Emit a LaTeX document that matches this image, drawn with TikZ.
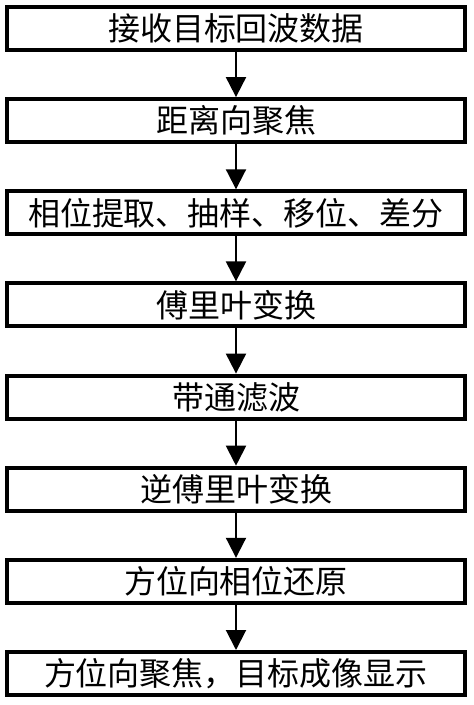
\documentclass[tikz,border=0pt]{standalone}
\usepackage{fontspec}
\newfontfamily\cjk{Noto Sans CJK SC}
\usetikzlibrary{arrows.meta}
\begin{document}
\begin{tikzpicture}[x=1pt,y=1pt,
  stepbox/.style={draw=black,line width=4pt,minimum width=458pt,minimum height=43pt,inner sep=0pt,font=\cjk\fontsize{32pt}{34pt}\selectfont,text=black,fill=white},
  flow/.style={line width=2pt,-{Triangle[width=20pt,length=20pt]}}]
\useasboundingbox (0,0) rectangle (474,-705);
\node[stepbox] (b1) at (236,-28.5) {接收目标回波数据};
\node[stepbox] (b2) at (236,-120.6) {距离向聚焦};
\node[stepbox] (b3) at (236,-212.8) {相位提取、抽样、移位、差分};
\node[stepbox] (b4) at (236,-304.9) {傅里叶变换};
\node[stepbox] (b5) at (236,-397.1) {带通滤波};
\node[stepbox] (b6) at (236,-489.2) {逆傅里叶变换};
\node[stepbox] (b7) at (236,-581.3) {方位向相位还原};
\node[stepbox] (b8) at (236,-673.5) {方位向聚焦，目标成像显示};
\foreach \a/\b in {b1/b2,b2/b3,b3/b4,b4/b5,b5/b6,b6/b7,b7/b8}
  \draw[flow] (\a.south) -- (\b.north);
\end{tikzpicture}
\end{document}
